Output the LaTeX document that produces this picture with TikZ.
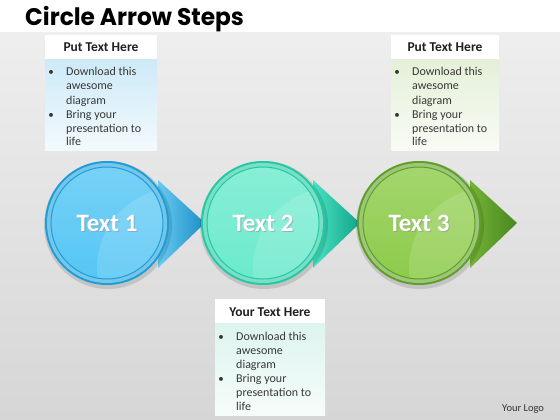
\documentclass[tikz,border=0pt]{standalone}
\usepackage{fontspec}
\setmainfont{Carlito}
\newfontfamily\titlefont{Poppins}
\definecolor{bgtop}{HTML}{EEEEEE}
\definecolor{bgmid}{HTML}{FAFAFA}
\definecolor{bgbot}{HTML}{D6D6D6}
\definecolor{boxA}{HTML}{CDEAF7}
\definecolor{boxB}{HTML}{E4F0D8}
\definecolor{boxC}{HTML}{DDF4EE}
\definecolor{rimA}{HTML}{1D9ED8}
\definecolor{inA}{HTML}{55C6F4}
\definecolor{rimB}{HTML}{22C9A2}
\definecolor{inB}{HTML}{6BEACC}
\definecolor{rimC}{HTML}{5E9F24}
\definecolor{inC}{HTML}{8DCB4A}
\definecolor{arAl}{HTML}{66CCF2}
\definecolor{arAr}{HTML}{1E8CC4}
\definecolor{arBl}{HTML}{4AE2C4}
\definecolor{arBr}{HTML}{12A487}
\definecolor{arCl}{HTML}{74B436}
\definecolor{arCr}{HTML}{4A8620}
\tikzset{
  titletext/.style={font=\titlefont\bfseries\fontsize{24}{28}\selectfont, anchor=base west, inner sep=0},
  headtext/.style={font=\bfseries\fontsize{13.5}{15}\selectfont, anchor=base, inner sep=0, text=black!88},
  bodyline/.style={font=\fontsize{12}{14}\selectfont, anchor=base west, inner sep=0, text=black!78},
  bul/.style={font=\fontsize{11}{12}\selectfont, anchor=base, inner sep=0, text=black!80},
  ctext/.style={font=\bfseries\fontsize{25}{28}\selectfont, text=white, inner sep=0},
  cshadow/.style={text=black!45, font=\bfseries\fontsize{25}{28}\selectfont, inner sep=0, opacity=.5},
  logotext/.style={font=\fontsize{10.5}{12}\selectfont, anchor=base west, inner sep=0, text=black!80},
}
% #1 name, #2 left, #3 right, #4 top, #5 bottom, #6 colour, #7 header
\newcommand\infobox[7]{%
  \shade[top color=#6, bottom color=#6!25!white] (#2,{#4+24}) rectangle (#3,#5);
  \fill[white] (#2,#4) rectangle (#3,{#4+24});
  \node[headtext] (#1-h) at ({(#2+#3)/2},{#4+17}) {#7};
  \node[bul] (#1-b1) at ({#2+6},{#4+41}) {•};
  \node[bul] (#1-b2) at ({#2+6},{#4+83}) {•};
  \node[bodyline] (#1-l1) at ({#2+21},{#4+41}) {Download this};
  \node[bodyline] (#1-l2) at ({#2+21},{#4+55}) {awesome};
  \node[bodyline] (#1-l3) at ({#2+21},{#4+69}) {diagram};
  \node[bodyline] (#1-l4) at ({#2+21},{#4+83}) {Bring your};
  \node[bodyline] (#1-l5) at ({#2+21},{#4+97}) {presentation to};
  \node[bodyline] (#1-l6) at ({#2+21},{#4+111}) {life};
}
% #1 name, #2 cx, #3 cy, #4 rim, #5 inner, #6 text
\newcommand\stepcircle[6]{%
  \fill[black, opacity=.12] ({#2+1},{#3+2}) circle (64);
  \fill[#4] (#2,#3) circle (62);
  \fill[#4!60!white] (#2,#3) circle (60);
  \shade[top color=#5!80!white, bottom color=#5] (#2,#3) circle (56);
  \begin{scope}
    \clip (#2,#3) circle (56);
    \fill[white, opacity=.14] ({#2+70},{#3+45}) circle (80);
  \end{scope}
  \draw[#4, line width=1pt] (#2,#3) circle (56);
  \node[cshadow] at ({#2+1},{#3+1.5}) {#6};
  \node[ctext] (#1) at (#2,#3) {#6};
}
\begin{document}
\begin{tikzpicture}[x=1pt,y=-1pt]
\useasboundingbox (0,0) rectangle (560,420);
\fill[white] (0,0) rectangle (560,33);
\shade[top color=bgtop, middle color=bgmid, bottom color=bgbot] (0,33) rectangle (560,420);
\node[titletext] (title) at (25,26) {\scalebox{0.97}[1]{Circle Arrow Steps}};
\infobox{boxa}{45}{157}{35}{150}{boxA}{Put Text Here}
\infobox{boxb}{391}{499}{35}{150}{boxB}{Put Text Here}
\infobox{boxc}{215}{325}{299}{415}{boxC}{Your Text Here}
% arrows
\shade[left color=arAl, right color=arAr] (158,180) -- (205,223) -- (158,268) -- cycle;
\shade[left color=arBl, right color=arBr] (313,180) -- (360,223) -- (313,268) -- cycle;
\shade[left color=arCl, right color=arCr] (470,180) -- (517,223) -- (470,268) -- cycle;
\coordinate (tipa) at (205,223);
\coordinate (tipb) at (360,223);
\coordinate (tipc) at (517,223);
\stepcircle{c1}{107}{223}{rimA}{inA}{Text 1}
\stepcircle{c2}{263}{223}{rimB}{inB}{Text 2}
\stepcircle{c3}{419}{223}{rimC}{inC}{Text 3}
\node[logotext] (logo) at (502,411) {Your Logo};
\end{tikzpicture}
\end{document}
